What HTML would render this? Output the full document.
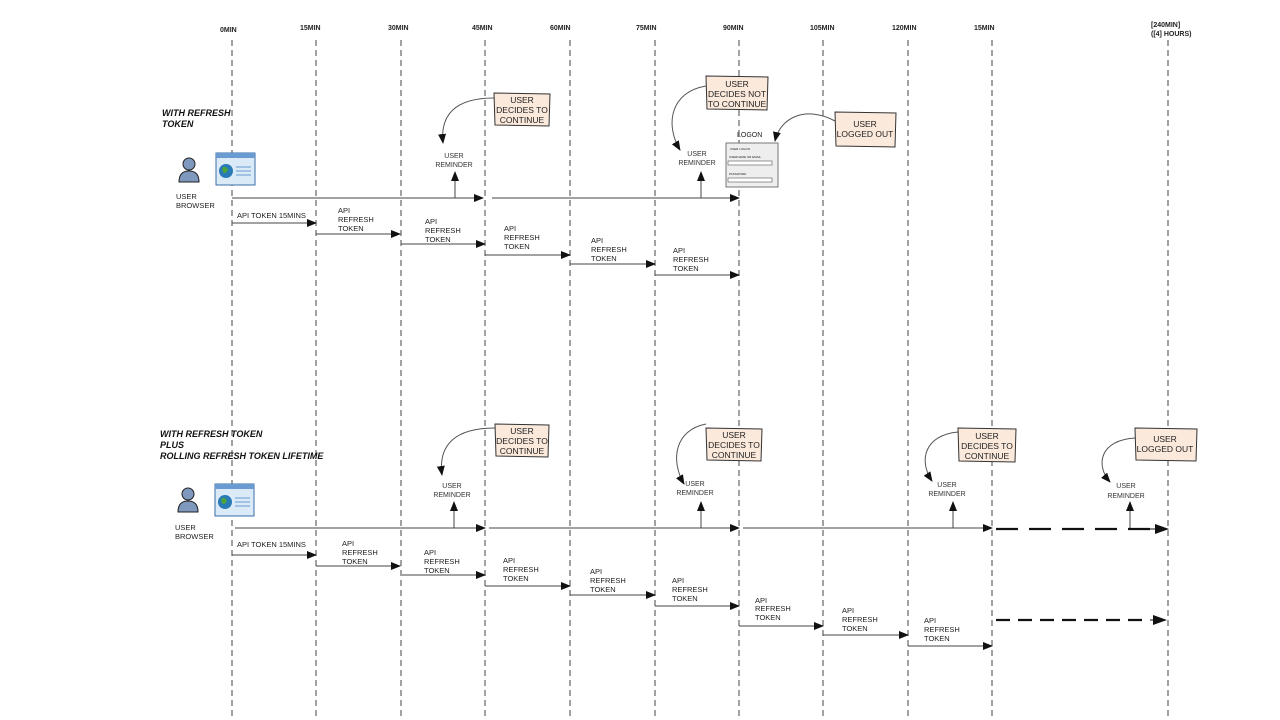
<!DOCTYPE html>
<html><head><meta charset="utf-8"><style>
html,body{margin:0;padding:0;background:#fff;}
svg{display:block;}
text{font-family:"Liberation Sans",sans-serif;font-size:7.5px;fill:#222;}
.h{font-weight:bold;font-size:7px;}
.t{font-weight:bold;font-style:italic;font-size:9px;fill:#111;}
.n{font-size:8.5px;fill:#222;text-anchor:middle;}
.r{font-size:7px;fill:#333;text-anchor:middle;}
.v{stroke:#444;stroke-width:1;stroke-dasharray:6,4;}
.a{stroke:#444;stroke-width:1;fill:none;}
.note{fill:#fbe9dc;stroke:#333;stroke-width:1;}
.c{stroke:#555;stroke-width:1;fill:none;}
</style></head><body>
<svg width="1280" height="720" xmlns="http://www.w3.org/2000/svg">
<defs>
<marker id="ar" markerWidth="10" markerHeight="8" refX="9" refY="4" orient="auto" markerUnits="userSpaceOnUse"><path d="M0,0 L10,4 L0,8 z" fill="#111"/></marker>
<marker id="ar2" markerWidth="14" markerHeight="10" refX="13" refY="5" orient="auto" markerUnits="userSpaceOnUse"><path d="M0,0 L14,5 L0,10 z" fill="#111"/></marker>
<g id="person"><circle cx="0" cy="-6" r="6" fill="#7f98bd" stroke="#222"/><path d="M-10,12 Q-10,1 0,1 Q10,1 10,12 z" fill="#7f98bd" stroke="#222"/></g>
<g id="brow"><rect x="0" y="0" width="39" height="32" fill="#dbeaf7" stroke="#3a6ea8"/><rect x="0" y="0" width="39" height="5" fill="#6a9bd0"/><circle cx="10" cy="18" r="7" fill="#2a7ab8"/><path d="M6,15 q4,-3 6,2 q-3,5 -5,2z" fill="#4aa43a"/><line x1="20" y1="14" x2="35" y2="14" stroke="#6a9bd0"/><line x1="20" y1="18" x2="35" y2="18" stroke="#6a9bd0"/><line x1="20" y1="22" x2="35" y2="22" stroke="#6a9bd0"/></g>
</defs>

<text class="h" x="220" y="32">0MIN</text>
<text class="h" x="300" y="30">15MIN</text>
<text class="h" x="388" y="30">30MIN</text>
<text class="h" x="472" y="30">45MIN</text>
<text class="h" x="550" y="30">60MIN</text>
<text class="h" x="636" y="30">75MIN</text>
<text class="h" x="723" y="30">90MIN</text>
<text class="h" x="810" y="30">105MIN</text>
<text class="h" x="892" y="30">120MIN</text>
<text class="h" x="974" y="30">15MIN</text>
<text class="h" x="1151" y="27">[240MIN]</text>
<text class="h" x="1151" y="36">([4] HOURS)</text>

<g class="v">
<line x1="232" y1="40" x2="232" y2="720"/><line x1="316" y1="40" x2="316" y2="720"/>
<line x1="401" y1="40" x2="401" y2="720"/><line x1="485" y1="40" x2="485" y2="720"/>
<line x1="570" y1="40" x2="570" y2="720"/><line x1="655" y1="40" x2="655" y2="720"/>
<line x1="739" y1="40" x2="739" y2="720"/><line x1="823" y1="40" x2="823" y2="720"/>
<line x1="908" y1="40" x2="908" y2="720"/><line x1="992" y1="40" x2="992" y2="720"/>
<line x1="1168" y1="40" x2="1168" y2="720"/>
</g>

<text class="t" x="162" y="116">WITH REFRESH</text>
<text class="t" x="162" y="127">TOKEN</text>
<use href="#person" x="189" y="170"/>
<use href="#brow" x="216" y="153"/>
<text x="176" y="199">USER</text><text x="176" y="208">BROWSER</text>

<line class="a" x1="232" y1="198" x2="483" y2="198" marker-end="url(#ar)"/>
<line class="a" x1="492" y1="198" x2="739" y2="198" marker-end="url(#ar)"/>
<line class="a" x1="455" y1="198" x2="455" y2="172" marker-end="url(#ar)"/>
<line class="a" x1="701" y1="198" x2="701" y2="172" marker-end="url(#ar)"/>
<text class="r" x="454" y="158">USER</text><text class="r" x="454" y="167">REMINDER</text>
<text class="r" x="697" y="156">USER</text><text class="r" x="697" y="165">REMINDER</text>

<path class="c" d="M494,98 C455,98 440,115 443,143" marker-end="url(#ar)"/>
<path class="note" d="M494,93 L550,94 L549,126 L495,125 z"/>
<text class="n" x="522" y="103">USER</text><text class="n" x="522" y="113">DECIDES TO</text><text class="n" x="522" y="123">CONTINUE</text>

<path class="c" d="M706,86 C670,92 665,125 680,150" marker-end="url(#ar)"/>
<path class="note" d="M706,76 L768,77 L767,110 L707,109 z"/>
<text class="n" x="737" y="87">USER</text><text class="n" x="737" y="97">DECIDES NOT</text><text class="n" x="737" y="107">TO CONTINUE</text>

<text x="737" y="137" style="font-size:7px">LOGON</text>
<rect x="726" y="143" width="52" height="44" fill="#eee" stroke="#777"/>
<text x="730" y="150" style="font-size:3px">USER LOGON</text>
<text x="729" y="158" style="font-size:3px">USERNAME OR EMAIL</text>
<rect x="728" y="161" width="44" height="4" fill="#fff" stroke="#555" stroke-width="0.6"/>
<text x="729" y="175" style="font-size:3px">PASSWORD</text>
<rect x="728" y="178" width="44" height="4" fill="#fff" stroke="#555" stroke-width="0.6"/>

<path class="c" d="M835,121 C805,105 780,118 775,141" marker-end="url(#ar)"/>
<path class="note" d="M835,112 L896,113 L895,147 L836,146 z"/>
<text class="n" x="865" y="127">USER</text><text class="n" x="865" y="137">LOGGED OUT</text>

<text x="237" y="218">API TOKEN  15MINS</text>
<line class="a" x1="232" y1="223" x2="316" y2="223" marker-end="url(#ar)"/>
<text x="338" y="213">API</text><text x="338" y="222">REFRESH</text><text x="338" y="231">TOKEN</text>
<line class="a" x1="316" y1="234" x2="400" y2="234" marker-end="url(#ar)"/>
<text x="425" y="224">API</text><text x="425" y="233">REFRESH</text><text x="425" y="242">TOKEN</text>
<line class="a" x1="401" y1="244" x2="485" y2="244" marker-end="url(#ar)"/>
<text x="504" y="231">API</text><text x="504" y="240">REFRESH</text><text x="504" y="249">TOKEN</text>
<line class="a" x1="485" y1="255" x2="570" y2="255" marker-end="url(#ar)"/>
<text x="591" y="243">API</text><text x="591" y="252">REFRESH</text><text x="591" y="261">TOKEN</text>
<line class="a" x1="570" y1="264" x2="655" y2="264" marker-end="url(#ar)"/>
<text x="673" y="253">API</text><text x="673" y="262">REFRESH</text><text x="673" y="271">TOKEN</text>
<line class="a" x1="655" y1="275" x2="739" y2="275" marker-end="url(#ar)"/>

<text class="t" x="160" y="437">WITH REFRESH TOKEN</text>
<text class="t" x="160" y="448">PLUS</text>
<text class="t" x="160" y="459">ROLLING REFRESH TOKEN LIFETIME</text>
<use href="#person" x="188" y="500"/>
<use href="#brow" x="215" y="484"/>
<text x="175" y="530">USER</text><text x="175" y="539">BROWSER</text>

<line class="a" x1="235" y1="528" x2="485" y2="528" marker-end="url(#ar)"/>
<line class="a" x1="489" y1="528" x2="739" y2="528" marker-end="url(#ar)"/>
<line class="a" x1="743" y1="528" x2="992" y2="528" marker-end="url(#ar)"/>
<line x1="996" y1="529" x2="1155" y2="529" stroke="#111" stroke-width="2.2" stroke-dasharray="22,11"/>
<line x1="1150" y1="529" x2="1168" y2="529" stroke="#111" stroke-width="1" marker-end="url(#ar2)"/>
<line class="a" x1="454" y1="528" x2="454" y2="502" marker-end="url(#ar)"/>
<line class="a" x1="701" y1="528" x2="701" y2="502" marker-end="url(#ar)"/>
<line class="a" x1="953" y1="528" x2="953" y2="502" marker-end="url(#ar)"/>
<line class="a" x1="1130" y1="528" x2="1130" y2="502" marker-end="url(#ar)"/>
<text class="r" x="452" y="488">USER</text><text class="r" x="452" y="497">REMINDER</text>
<text class="r" x="695" y="486">USER</text><text class="r" x="695" y="495">REMINDER</text>
<text class="r" x="947" y="487">USER</text><text class="r" x="947" y="496">REMINDER</text>
<text class="r" x="1126" y="488">USER</text><text class="r" x="1126" y="498">REMINDER</text>

<path class="c" d="M495,428 C455,428 438,445 442,475" marker-end="url(#ar)"/>
<path class="note" d="M495,424 L549,425 L548,457 L496,456 z"/>
<text class="n" x="522" y="434">USER</text><text class="n" x="522" y="444">DECIDES TO</text><text class="n" x="522" y="454">CONTINUE</text>

<path class="c" d="M706,424 C675,430 670,460 684,484" marker-end="url(#ar)"/>
<path class="note" d="M706,428 L762,429 L761,461 L707,460 z"/>
<text class="n" x="734" y="438">USER</text><text class="n" x="734" y="448">DECIDES TO</text><text class="n" x="734" y="458">CONTINUE</text>

<path class="c" d="M958,432 C925,435 918,460 932,481" marker-end="url(#ar)"/>
<path class="note" d="M958,428 L1016,429 L1015,462 L959,461 z"/>
<text class="n" x="987" y="439">USER</text><text class="n" x="987" y="449">DECIDES TO</text><text class="n" x="987" y="459">CONTINUE</text>

<path class="c" d="M1135,438 C1100,440 1095,465 1110,482" marker-end="url(#ar)"/>
<path class="note" d="M1135,428 L1197,429 L1196,461 L1136,460 z"/>
<text class="n" x="1165" y="442">USER</text><text class="n" x="1165" y="452">LOGGED OUT</text>

<text x="237" y="547">API TOKEN  15MINS</text>
<line class="a" x1="232" y1="555" x2="316" y2="555" marker-end="url(#ar)"/>
<text x="342" y="546">API</text><text x="342" y="555">REFRESH</text><text x="342" y="564">TOKEN</text>
<line class="a" x1="316" y1="566" x2="400" y2="566" marker-end="url(#ar)"/>
<text x="424" y="555">API</text><text x="424" y="564">REFRESH</text><text x="424" y="573">TOKEN</text>
<line class="a" x1="402" y1="575" x2="485" y2="575" marker-end="url(#ar)"/>
<text x="503" y="563">API</text><text x="503" y="572">REFRESH</text><text x="503" y="581">TOKEN</text>
<line class="a" x1="485" y1="586" x2="570" y2="586" marker-end="url(#ar)"/>
<text x="590" y="574">API</text><text x="590" y="583">REFRESH</text><text x="590" y="592">TOKEN</text>
<line class="a" x1="570" y1="595" x2="655" y2="595" marker-end="url(#ar)"/>
<text x="672" y="583">API</text><text x="672" y="592">REFRESH</text><text x="672" y="601">TOKEN</text>
<line class="a" x1="655" y1="606" x2="739" y2="606" marker-end="url(#ar)"/>
<text x="755" y="603">API</text><text x="755" y="611">REFRESH</text><text x="755" y="620">TOKEN</text>
<line class="a" x1="739" y1="626" x2="823" y2="626" marker-end="url(#ar)"/>
<text x="842" y="613">API</text><text x="842" y="622">REFRESH</text><text x="842" y="631">TOKEN</text>
<line class="a" x1="823" y1="635" x2="908" y2="635" marker-end="url(#ar)"/>
<text x="924" y="623">API</text><text x="924" y="632">REFRESH</text><text x="924" y="641">TOKEN</text>
<line class="a" x1="908" y1="646" x2="992" y2="646" marker-end="url(#ar)"/>
<line x1="996" y1="620" x2="1150" y2="620" stroke="#111" stroke-width="2.2" stroke-dasharray="14,8"/>
<line x1="1150" y1="620" x2="1166" y2="620" stroke="#111" stroke-width="1" marker-end="url(#ar2)"/>
</svg>
</body></html>
